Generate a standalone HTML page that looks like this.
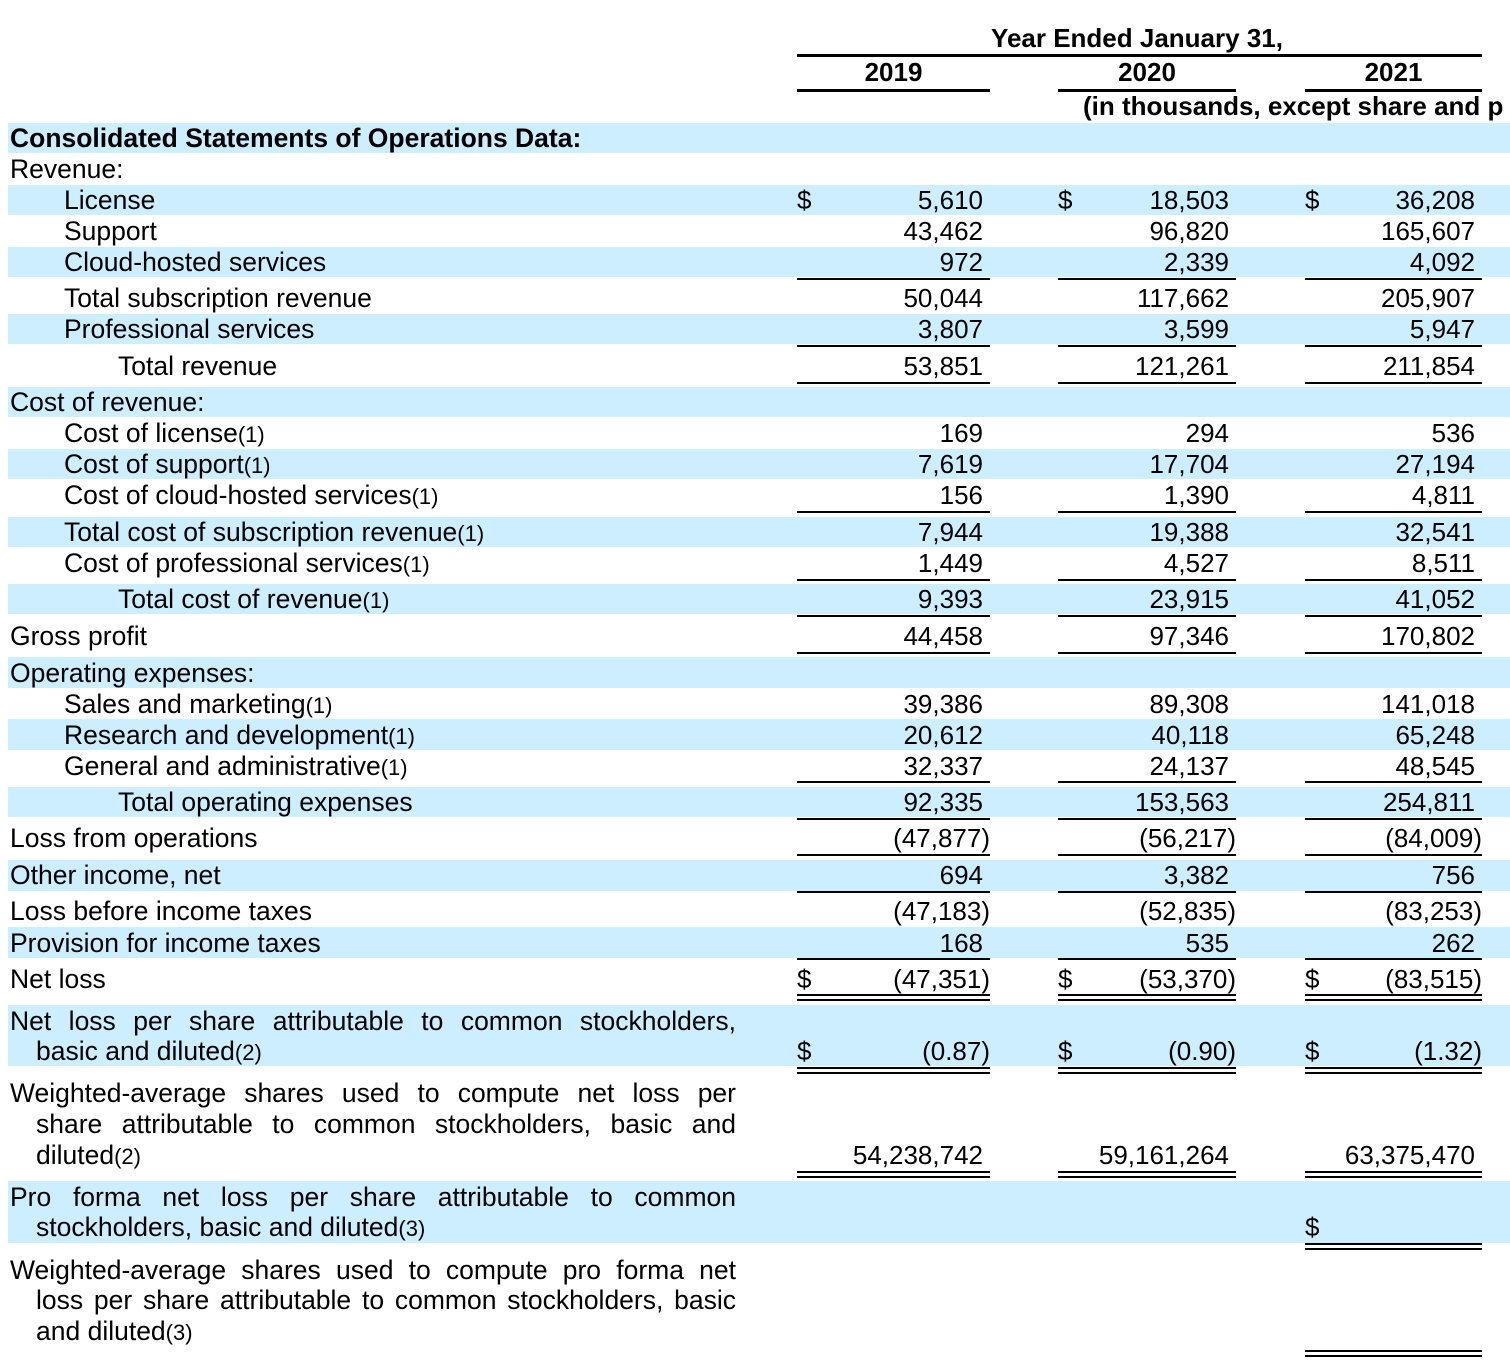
<!DOCTYPE html>
<html><head><meta charset="utf-8"><style>
body{margin:0;width:1510px;height:1370px;background:#fff;position:relative;overflow:hidden;font-family:"Liberation Sans",Arial,sans-serif;font-size:26.5px;color:#000}
div{position:absolute;white-space:nowrap;line-height:30px}
.s{background:#cceeff;left:8px;width:1502px;height:31px}
.l{background:#000;height:2px;line-height:0}
.n{text-align:right;width:200px;font-size:26px}
.d{font-size:26px}
.b{font-weight:bold}
.h{text-align:center;font-weight:bold;font-size:26px}
small{font-size:22px}
.j{width:726px;text-align:justify;text-align-last:justify}
</style></head><body>
<!-- shading -->
<div class="s" style="top:123px;height:30px"></div>
<div class="s" style="top:185px;height:30px"></div>
<div class="s" style="top:247px;height:30px"></div>
<div class="s" style="top:314px;height:30px"></div>
<div class="s" style="top:387px;height:30px"></div>
<div class="s" style="top:449px;height:30px"></div>
<div class="s" style="top:517px;height:30px"></div>
<div class="s" style="top:584px;height:30px"></div>
<div class="s" style="top:657px;height:31px"></div>
<div class="s" style="top:719px;height:31px"></div>
<div class="s" style="top:787px;height:30px"></div>
<div class="s" style="top:860px;height:31px"></div>
<div class="s" style="top:927px;height:31px"></div>
<div class="s" style="top:1005px;height:61px"></div>
<div class="s" style="top:1181px;height:62px"></div>

<!-- header -->
<div class="h" style="left:937px;width:400px;top:23px">Year Ended January 31,</div>
<div class="l" style="left:797px;width:685px;top:54px;height:3px"></div>
<div class="h" style="left:797px;width:193px;top:57px">2019</div>
<div class="h" style="left:1058px;width:178px;top:57px">2020</div>
<div class="h" style="left:1305px;width:177px;top:57px">2021</div>
<div class="l" style="left:797px;width:193px;top:89px;height:3px"></div>
<div class="l" style="left:1058px;width:178px;top:89px;height:3px"></div>
<div class="l" style="left:1305px;width:177px;top:89px;height:3px"></div>
<div style="left:1083px;top:91px;width:427px;height:32px;overflow:hidden"><div class="b" style="left:0;top:0;font-size:26px">(in thousands, except share and p</div></div>

<!-- labels -->
<div class="b" style="left:10px;top:123px">Consolidated Statements of Operations Data:</div>
<div style="left:10px;top:154px">Revenue:</div>
<div style="left:64px;top:185px">License</div>
<div style="left:64px;top:216px">Support</div>
<div style="left:64px;top:247px">Cloud-hosted services</div>
<div style="left:64px;top:283px">Total subscription revenue</div>
<div style="left:64px;top:314px">Professional services</div>
<div style="left:118px;top:351px">Total revenue</div>
<div style="left:10px;top:387px">Cost of revenue:</div>
<div style="left:64px;top:418px">Cost of license<small>(1)</small></div>
<div style="left:64px;top:449px">Cost of support<small>(1)</small></div>
<div style="left:64px;top:480px">Cost of cloud-hosted services<small>(1)</small></div>
<div style="left:64px;top:517px">Total cost of subscription revenue<small>(1)</small></div>
<div style="left:64px;top:548px">Cost of professional services<small>(1)</small></div>
<div style="left:118px;top:584px">Total cost of revenue<small>(1)</small></div>
<div style="left:10px;top:621px">Gross profit</div>
<div style="left:10px;top:658px">Operating expenses:</div>
<div style="left:64px;top:689px">Sales and marketing<small>(1)</small></div>
<div style="left:64px;top:720px">Research and development<small>(1)</small></div>
<div style="left:64px;top:751px">General and administrative<small>(1)</small></div>
<div style="left:118px;top:787px">Total operating expenses</div>
<div style="left:10px;top:823px">Loss from operations</div>
<div style="left:10px;top:860px">Other income, net</div>
<div style="left:10px;top:896px">Loss before income taxes</div>
<div style="left:10px;top:928px">Provision for income taxes</div>
<div style="left:10px;top:964px">Net loss</div>
<div class="j" style="left:10px;top:1006px">Net loss per share attributable to common stockholders,</div>
<div style="left:36px;top:1036px">basic and diluted<small>(2)</small></div>
<div class="j" style="left:10px;top:1078px">Weighted-average shares used to compute net loss per</div>
<div class="j" style="left:36px;width:700px;top:1109px">share attributable to common stockholders, basic and</div>
<div style="left:36px;top:1140px">diluted<small>(2)</small></div>
<div class="j" style="left:10px;top:1182px">Pro forma net loss per share attributable to common</div>
<div style="left:36px;top:1212px">stockholders, basic and diluted<small>(3)</small></div>
<div class="j" style="left:10px;top:1255px">Weighted-average shares used to compute pro forma net</div>
<div class="j" style="left:36px;width:700px;top:1285px">loss per share attributable to common stockholders, basic</div>
<div style="left:36px;top:1316px">and diluted<small>(3)</small></div>

<!-- dollar signs -->
<div class="d" style="left:797px;top:185px">$</div><div class="d" style="left:1058px;top:185px">$</div><div class="d" style="left:1305px;top:185px">$</div>
<div class="d" style="left:797px;top:964px">$</div><div class="d" style="left:1058px;top:964px">$</div><div class="d" style="left:1305px;top:964px">$</div>
<div class="d" style="left:797px;top:1036px">$</div><div class="d" style="left:1058px;top:1036px">$</div><div class="d" style="left:1305px;top:1036px">$</div>
<div class="d" style="left:1305px;top:1212px">$</div>

<!-- numbers -->
<div class="n" style="left:783px;top:185px">5,610</div><div class="n" style="left:1029px;top:185px">18,503</div><div class="n" style="left:1275px;top:185px">36,208</div>
<div class="n" style="left:783px;top:216px">43,462</div><div class="n" style="left:1029px;top:216px">96,820</div><div class="n" style="left:1275px;top:216px">165,607</div>
<div class="n" style="left:783px;top:247px">972</div><div class="n" style="left:1029px;top:247px">2,339</div><div class="n" style="left:1275px;top:247px">4,092</div>
<div class="n" style="left:783px;top:283px">50,044</div><div class="n" style="left:1029px;top:283px">117,662</div><div class="n" style="left:1275px;top:283px">205,907</div>
<div class="n" style="left:783px;top:314px">3,807</div><div class="n" style="left:1029px;top:314px">3,599</div><div class="n" style="left:1275px;top:314px">5,947</div>
<div class="n" style="left:783px;top:351px">53,851</div><div class="n" style="left:1029px;top:351px">121,261</div><div class="n" style="left:1275px;top:351px">211,854</div>
<div class="n" style="left:783px;top:418px">169</div><div class="n" style="left:1029px;top:418px">294</div><div class="n" style="left:1275px;top:418px">536</div>
<div class="n" style="left:783px;top:449px">7,619</div><div class="n" style="left:1029px;top:449px">17,704</div><div class="n" style="left:1275px;top:449px">27,194</div>
<div class="n" style="left:783px;top:480px">156</div><div class="n" style="left:1029px;top:480px">1,390</div><div class="n" style="left:1275px;top:480px">4,811</div>
<div class="n" style="left:783px;top:517px">7,944</div><div class="n" style="left:1029px;top:517px">19,388</div><div class="n" style="left:1275px;top:517px">32,541</div>
<div class="n" style="left:783px;top:548px">1,449</div><div class="n" style="left:1029px;top:548px">4,527</div><div class="n" style="left:1275px;top:548px">8,511</div>
<div class="n" style="left:783px;top:584px">9,393</div><div class="n" style="left:1029px;top:584px">23,915</div><div class="n" style="left:1275px;top:584px">41,052</div>
<div class="n" style="left:783px;top:621px">44,458</div><div class="n" style="left:1029px;top:621px">97,346</div><div class="n" style="left:1275px;top:621px">170,802</div>
<div class="n" style="left:783px;top:689px">39,386</div><div class="n" style="left:1029px;top:689px">89,308</div><div class="n" style="left:1275px;top:689px">141,018</div>
<div class="n" style="left:783px;top:720px">20,612</div><div class="n" style="left:1029px;top:720px">40,118</div><div class="n" style="left:1275px;top:720px">65,248</div>
<div class="n" style="left:783px;top:751px">32,337</div><div class="n" style="left:1029px;top:751px">24,137</div><div class="n" style="left:1275px;top:751px">48,545</div>
<div class="n" style="left:783px;top:787px">92,335</div><div class="n" style="left:1029px;top:787px">153,563</div><div class="n" style="left:1275px;top:787px">254,811</div>
<div class="n" style="left:790px;top:823px">(47,877)</div><div class="n" style="left:1036px;top:823px">(56,217)</div><div class="n" style="left:1282px;top:823px">(84,009)</div>
<div class="n" style="left:783px;top:860px">694</div><div class="n" style="left:1029px;top:860px">3,382</div><div class="n" style="left:1275px;top:860px">756</div>
<div class="n" style="left:790px;top:896px">(47,183)</div><div class="n" style="left:1036px;top:896px">(52,835)</div><div class="n" style="left:1282px;top:896px">(83,253)</div>
<div class="n" style="left:783px;top:928px">168</div><div class="n" style="left:1029px;top:928px">535</div><div class="n" style="left:1275px;top:928px">262</div>
<div class="n" style="left:790px;top:964px">(47,351)</div><div class="n" style="left:1036px;top:964px">(53,370)</div><div class="n" style="left:1282px;top:964px">(83,515)</div>
<div class="n" style="left:790px;top:1036px">(0.87)</div><div class="n" style="left:1036px;top:1036px">(0.90)</div><div class="n" style="left:1282px;top:1036px">(1.32)</div>
<div class="n" style="left:783px;top:1140px">54,238,742</div><div class="n" style="left:1029px;top:1140px">59,161,264</div><div class="n" style="left:1275px;top:1140px">63,375,470</div>

<!-- single lines -->
<div class="l" style="left:797px;width:193px;top:278px"></div><div class="l" style="left:1058px;width:178px;top:278px"></div><div class="l" style="left:1305px;width:177px;top:278px"></div>
<div class="l" style="left:797px;width:193px;top:345px"></div><div class="l" style="left:1058px;width:178px;top:345px"></div><div class="l" style="left:1305px;width:177px;top:345px"></div>
<div class="l" style="left:797px;width:193px;top:382px"></div><div class="l" style="left:1058px;width:178px;top:382px"></div><div class="l" style="left:1305px;width:177px;top:382px"></div>
<div class="l" style="left:797px;width:193px;top:511px"></div><div class="l" style="left:1058px;width:178px;top:511px"></div><div class="l" style="left:1305px;width:177px;top:511px"></div>
<div class="l" style="left:797px;width:193px;top:579px"></div><div class="l" style="left:1058px;width:178px;top:579px"></div><div class="l" style="left:1305px;width:177px;top:579px"></div>
<div class="l" style="left:797px;width:193px;top:615px"></div><div class="l" style="left:1058px;width:178px;top:615px"></div><div class="l" style="left:1305px;width:177px;top:615px"></div>
<div class="l" style="left:797px;width:193px;top:652px"></div><div class="l" style="left:1058px;width:178px;top:652px"></div><div class="l" style="left:1305px;width:177px;top:652px"></div>
<div class="l" style="left:797px;width:193px;top:781px"></div><div class="l" style="left:1058px;width:178px;top:781px"></div><div class="l" style="left:1305px;width:177px;top:781px"></div>
<div class="l" style="left:797px;width:193px;top:818px"></div><div class="l" style="left:1058px;width:178px;top:818px"></div><div class="l" style="left:1305px;width:177px;top:818px"></div>
<div class="l" style="left:797px;width:193px;top:854px"></div><div class="l" style="left:1058px;width:178px;top:854px"></div><div class="l" style="left:1305px;width:177px;top:854px"></div>
<div class="l" style="left:797px;width:193px;top:891px"></div><div class="l" style="left:1058px;width:178px;top:891px"></div><div class="l" style="left:1305px;width:177px;top:891px"></div>
<div class="l" style="left:797px;width:193px;top:958px"></div><div class="l" style="left:1058px;width:178px;top:958px"></div><div class="l" style="left:1305px;width:177px;top:958px"></div>
<!-- double lines -->
<div class="l" style="left:797px;width:193px;top:994px"></div><div class="l" style="left:1058px;width:178px;top:994px"></div><div class="l" style="left:1305px;width:177px;top:994px"></div>
<div class="l" style="left:797px;width:193px;top:999px"></div><div class="l" style="left:1058px;width:178px;top:999px"></div><div class="l" style="left:1305px;width:177px;top:999px"></div>
<div class="l" style="left:797px;width:193px;top:1067px"></div><div class="l" style="left:1058px;width:178px;top:1067px"></div><div class="l" style="left:1305px;width:177px;top:1067px"></div>
<div class="l" style="left:797px;width:193px;top:1072px"></div><div class="l" style="left:1058px;width:178px;top:1072px"></div><div class="l" style="left:1305px;width:177px;top:1072px"></div>
<div class="l" style="left:797px;width:193px;top:1171px"></div><div class="l" style="left:1058px;width:178px;top:1171px"></div><div class="l" style="left:1305px;width:177px;top:1171px"></div>
<div class="l" style="left:797px;width:193px;top:1176px"></div><div class="l" style="left:1058px;width:178px;top:1176px"></div><div class="l" style="left:1305px;width:177px;top:1176px"></div>
<div class="l" style="left:1305px;width:177px;top:1243px"></div><div class="l" style="left:1305px;width:177px;top:1248px"></div>
<div class="l" style="left:1305px;width:177px;top:1350px"></div><div class="l" style="left:1305px;width:177px;top:1355px"></div>
</body></html>
